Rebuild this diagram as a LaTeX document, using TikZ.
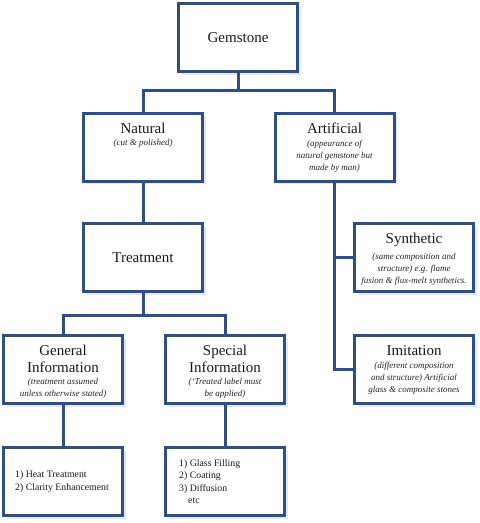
\documentclass[tikz,border=0pt]{standalone}
\usepackage{fontspec}
\setmainfont{Liberation Serif}
\usetikzlibrary{shadows}
\definecolor{boxblue}{HTML}{2C4F8A}
\definecolor{shade}{HTML}{E3E8F1}
\tikzset{
  box/.style={draw=boxblue, line width=3pt, fill=white, rectangle,
    minimum width=119pt, minimum height=68pt, inner sep=0pt,
    drop shadow={shadow xshift=3pt, shadow yshift=-3pt, fill=shade, opacity=1}},
  conn/.style={draw=boxblue, line width=3pt},
  ttl/.style={font=\fontsize{15}{17}\selectfont, align=center, text=black!90},
  sub/.style={font=\fontsize{9}{12}\selectfont\itshape, align=center, text=black!85},
  lst/.style={font=\fontsize{9.8}{12.5}\selectfont, align=left, text=black!90, inner sep=0pt}
}
\begin{document}
\begin{tikzpicture}[x=1pt,y=-1pt]
\useasboundingbox (0,0) rectangle (480,523);
% boxes
\node[box] (gem) at (238,37.5) {};
\node[box] (nat) at (143,147) {};
\node[box] (art) at (334.5,147) {};
\node[box] (trt) at (143,257.5) {};
\node[box] (gen) at (63,369.5) {};
\node[box] (spe) at (225,369.5) {};
\node[box] (genl) at (63,481.5) {};
\node[box] (spel) at (225,481.5) {};
\node[box] (syn) at (414,257.5) {};
\node[box] (imi) at (414,369.5) {};
% texts
\node[ttl] (gemt) at (gem.center) {Gemstone};
\node[ttl] (trtt) at (trt.center) {Treatment};
\node[ttl, anchor=north] (natt) at ([yshift=-8pt]nat.north) {Natural};
\node[sub, anchor=north] (nats) at ([yshift=1pt]natt.south) {(cut \& polished)};
\node[ttl, anchor=north] (artt) at ([yshift=-8pt]art.north) {Artificial};
\node[sub, anchor=north] (arts) at ([yshift=1pt]artt.south) {(appearance of\\natural gemstone but\\made by man)};
\node[ttl, anchor=north] (synt) at ([yshift=-8pt]syn.north) {Synthetic};
\node[sub, anchor=north] (syns) at ([yshift=1pt]synt.south) {(same composition and\\structure) e.g. flame\\fusion \& flux-melt synthetics.};
\node[ttl, anchor=north] (imit) at ([yshift=-8pt]imi.north) {Imitation};
\node[sub, anchor=north] (imis) at ([yshift=1pt]imit.south) {(different composition\\and structure) Artificial\\glass \& composite stones};
\node[ttl, anchor=north] (gent) at ([yshift=-7.5pt]gen.north) {General\\Information};
\node[sub, anchor=north] (gens) at ([yshift=1.5pt]gent.south) {(treatment assumed\\unless otherwise stated)};
\node[ttl, anchor=north] (spet) at ([yshift=-7.5pt]spe.north) {Special\\Information};
\node[sub, anchor=north] (spes) at ([yshift=1.5pt]spet.south) {(`Treated label must\\be applied)};
\node[lst, anchor=west] (genlt) at ([xshift=13pt]genl.west) {1) Heat Treatment\\2) Clarity Enhancement};
\node[lst, anchor=west] (spelt) at ([xshift=15pt]spel.west) {1) Glass Filling\\2) Coating\\3) Diffusion\\\hspace*{9pt}etc};
% connectors
\coordinate (j1) at (238,90);
\coordinate (j2) at (143,315);
\draw[conn] (gem.south) -- (j1);
\draw[conn] (nat.north) |- (j1) -| (art.north);
\draw[conn] (nat.south) -- (trt.north);
\draw[conn] (trt.south) -- (j2);
\draw[conn] (gen.north) |- (j2) -| (spe.north);
\draw[conn] (gen.south) -- (genl.north);
\draw[conn] (spe.south) -- (spel.north);
\draw[conn] (art.south) |- (syn.west);
\draw[conn] (art.south) |- (imi.west);
\end{tikzpicture}
\end{document}
